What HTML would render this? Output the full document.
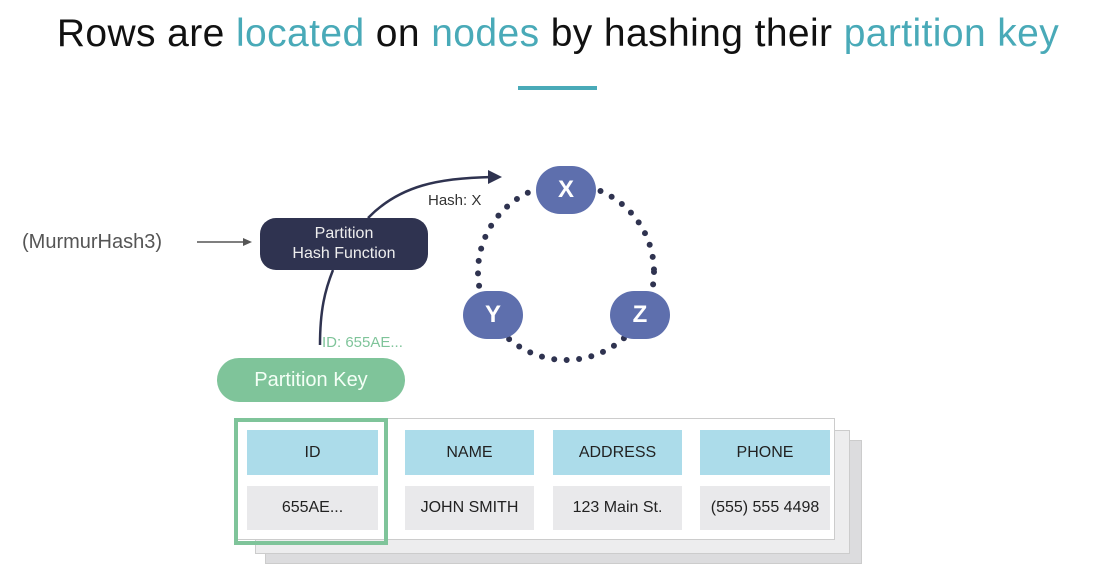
<!DOCTYPE html>
<html><head><meta charset="utf-8"><style>
body{margin:0;width:1100px;height:576px;background:#fff;font-family:"Liberation Sans",sans-serif;position:relative;overflow:hidden}
.t{position:absolute;left:8px;width:1100px;top:12px;text-align:center;font-size:39px;color:#111;letter-spacing:0.4px}
.t span{color:#49aab8}
.a{position:absolute}
.cell{position:absolute;display:flex;align-items:center;justify-content:center;font-size:16px;color:#222}
.h{background:#acdcea}.d{background:#e9e9eb}
</style></head><body>
<div class="t">Rows are <span>located</span> on <span>nodes</span> by hashing their <span>partition key</span></div>
<div class="a" style="left:518px;top:86px;width:79px;height:4px;background:#49aab8"></div>
<svg class="a" style="left:0;top:0" width="1100" height="576">
<circle cx="566" cy="272" r="88" fill="none" stroke="#2f3350" stroke-width="6" stroke-dasharray="0 12.5" stroke-linecap="round"/>
<path d="M320 345 C320 310 325 290 333 270" fill="none" stroke="#2f3350" stroke-width="2.5"/>
<path d="M368 218 C400 185 440 178 492 177" fill="none" stroke="#2f3350" stroke-width="2.5"/>
<polygon points="502,177 488,170 488,184" fill="#2f3350"/>
<line x1="197" y1="242" x2="245" y2="242" stroke="#555" stroke-width="1.5"/>
<polygon points="252,242 243,238 243,246" fill="#555"/>
</svg>
<div class="a" style="left:22px;top:231px;font-size:20px;color:#555">(MurmurHash3)</div>
<div class="a" style="left:260px;top:218px;width:168px;height:52px;background:#2f3350;border-radius:16px;color:#eee;font-size:16px;text-align:center;line-height:20px;padding-top:6px;box-sizing:border-box">Partition<br>Hash Function</div>
<div class="a" style="left:428px;top:192px;font-size:15px;color:#333">Hash: X</div>
<div class="a" style="left:322px;top:334px;font-size:15px;color:#7fc49a">ID: 655AE...</div>
<div class="a" style="left:217px;top:358px;width:188px;height:44px;background:#7fc49a;border-radius:22px;color:#f4fff6;font-size:20px;text-align:center;line-height:44px">Partition Key</div>
<div class="a" style="left:536px;top:166px;width:60px;height:48px;border-radius:24px;background:#5e6fad;color:#fff;font-weight:bold;font-size:24px;text-align:center;line-height:48px">X</div>
<div class="a" style="left:463px;top:291px;width:60px;height:48px;border-radius:24px;background:#5e6fad;color:#fff;font-weight:bold;font-size:24px;text-align:center;line-height:48px">Y</div>
<div class="a" style="left:610px;top:291px;width:60px;height:48px;border-radius:24px;background:#5e6fad;color:#fff;font-weight:bold;font-size:24px;text-align:center;line-height:48px">Z</div>
<div class="a" style="left:265px;top:440px;width:595px;height:122px;background:#dcdcde;border:1px solid #ccc"></div>
<div class="a" style="left:255px;top:430px;width:593px;height:122px;background:#ededee;border:1px solid #ccc"></div>
<div class="a" style="left:237px;top:418px;width:598px;height:122px;background:#fff;border:1px solid #ccc;box-sizing:border-box"></div>
<div class="cell h" style="left:247px;top:430px;width:131px;height:45px">ID</div>
<div class="cell h" style="left:405px;top:430px;width:129px;height:45px">NAME</div>
<div class="cell h" style="left:553px;top:430px;width:129px;height:45px">ADDRESS</div>
<div class="cell h" style="left:700px;top:430px;width:130px;height:45px">PHONE</div>
<div class="cell d" style="left:247px;top:486px;width:131px;height:44px">655AE...</div>
<div class="cell d" style="left:405px;top:486px;width:129px;height:44px">JOHN SMITH</div>
<div class="cell d" style="left:553px;top:486px;width:129px;height:44px">123 Main St.</div>
<div class="cell d" style="left:700px;top:486px;width:130px;height:44px">(555) 555 4498</div>
<div class="a" style="left:234px;top:418px;width:154px;height:127px;border:4px solid #7fc49a;box-sizing:border-box"></div>
</body></html>
